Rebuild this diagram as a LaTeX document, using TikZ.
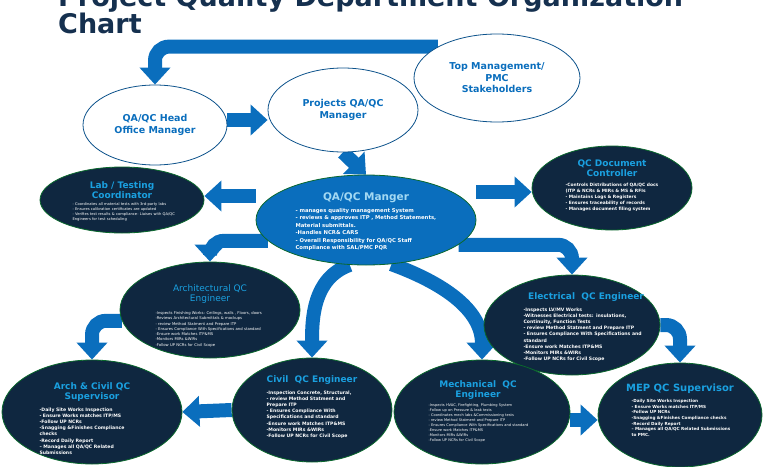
\documentclass[tikz,border=0pt]{standalone}
\usepackage{fontspec}
\setmainfont{DejaVu Sans}
\usetikzlibrary{shapes.geometric,arrows.meta,backgrounds}
\definecolor{navy}{HTML}{0F2740}
\definecolor{qblue}{HTML}{0A6EBD}
\definecolor{cyanh}{HTML}{1AA0E0}
\definecolor{titlec}{HTML}{15304F}
\tikzset{
  ell/.style={ellipse,draw=navy!70!green,line width=0.8pt,inner sep=0pt},
  wbox/.style={ell,fill=white,draw=qblue!60!navy},
  dbox/.style={ell,fill=navy},
  wtxt/.style={font=\bfseries\fontsize{9.5}{11.5}\selectfont,text=qblue,align=center},
  hd/.style={font=\bfseries\fontsize{9}{10}\selectfont,text=cyanh,align=center},
  bd/.style={font=\bfseries\fontsize{4.6}{6.2}\selectfont,text=white,align=left,execute at begin node={\hyphenpenalty=10000\exhyphenpenalty=10000}},
  conn/.style={draw=qblue,line width=14pt,rounded corners=14pt,-{Triangle[width=30pt,length=17pt]}},
}
\begin{document}
\begin{tikzpicture}[x=1pt,y=-1pt]
\useasboundingbox (0,0) rectangle (768,466);
\node[anchor=north west,font=\bfseries\fontsize{27}{27}\selectfont,text=titlec,align=left,inner sep=0] (title) at (58,-14) {Project Quality Department Organization\\Chart};

\node[wbox,minimum width=144,minimum height=80] (head) at (155,125) {};
\node[wtxt] at (head) {QA/QC Head\\Office Manager};
\node[wbox,minimum width=150,minimum height=84] (proj) at (343,110) {};
\node[wtxt] at (proj) {Projects QA/QC\\Manager};
\node[wbox,minimum width=166,minimum height=88] (top) at (497,78) {};
\node[wtxt] at (top) {Top Management/\\PMC\\Stakeholders};

\node[ell,fill=qblue,minimum width=220,minimum height=90] (mgr) at (366,220) {};
\node[font=\bfseries\fontsize{10.5}{12}\selectfont,text=cyanh!40!white] at (366,198) {QA/QC Manger};
\node[bd,font=\bfseries\fontsize{5.3}{7.4}\selectfont,anchor=north west,text width=150] at (292,205) {- manages quality management System\\- reviews \& approves ITP , Method Statements, Material submittals.\\-Handles NCR\& CARS\\- Overall Responsibility for QA/QC Staff Compliance with SAL/PMC PQR};

\node[dbox,minimum width=164,minimum height=66] (lab) at (122,200) {};
\node[hd] at (122,190) {Lab / Testing\\Coordinator};
\node[bd,font=\fontsize{3.7}{5}\selectfont,anchor=north west,text width=108] at (69,199) {- Coordinates all material tests with 3rd-party labs\\- Ensures calibration certificates are updated\\- Verifies test results \& compliance- Liaises with QA/QC Engineers for test scheduling};

\node[dbox,minimum width=160,minimum height=84] (doc) at (612,188) {};
\node[hd] at (612,168) {QC Document\\Controller};
\node[bd,font=\bfseries\fontsize{4.4}{6}\selectfont,anchor=north west,text width=102] at (562,180) {-Controls Distributions of QA/QC docs (ITP \& NCRs \& MIRs \& MS \& RFIs\\- Maintains Logs \& Registers\\- Ensures traceability of records\\- Manages document filing system};

\node[dbox,minimum width=180,minimum height=96] (arch) at (210,310) {};
\node[hd,font=\fontsize{9}{10.5}\selectfont] at (210,294) {Architectural QC\\Engineer};
\node[bd,font=\fontsize{3.8}{5.3}\selectfont,anchor=north west,text width=108] at (152,308) {-Inspects Finishing Works: Ceilings, walls , Floors, doors\\-Reviews Architectural Submittals \& mockups\\- review Method Statment and Prepare ITP\\- Ensures Compliance With Specifications and standard\\-Ensure work Matches ITP\&MS\\-Monitors MIRs \&WIRs\\-Follow UP NCRs for Civil Scope};

\node[dbox,minimum width=176,minimum height=100] (elec) at (572,325) {};
\node[hd] at (586,297) {Electrical\ \ QC Engineer};
\node[bd,anchor=north west,text width=122] at (520,304) {-Inspects LV/MV Works\\-Witnesses Electrical tests: insulations, Continuity, Function Tests\\- review Method Statment and Prepare ITP\\- Ensures Compliance With Specifications and standard\\-Ensure work Matches ITP\&MS\\-Monitors MIRs \&WIRs\\-Follow UP NCRs for Civil Scope};

\node[dbox,minimum width=180,minimum height=104] (acs) at (92,412) {};
\node[hd] at (92,392) {Arch \& Civil QC\\Supervisor};
\node[bd,anchor=north west,text width=102] at (36,404) {-Daily Site Works Inspection\\- Ensure Works matches ITP/MS\\-Follow UP NCRs\\-Snagging \&Finishes Compliance checks\\-Record Daily Report\\-- Manages all QA/QC Related Submissions};

\node[dbox,minimum width=160,minimum height=104] (civ) at (312,410) {};
\node[hd] at (312,380) {Civil\ \ QC Engineer};
\node[bd,anchor=north west,text width=100] at (263,387) {-Inspection Concrete, Structural,\\- review Method Statment and Prepare ITP\\- Ensures Compliance With Specifications and standard\\-Ensure work Matches ITP\&MS\\-Monitors MIRs \&WIRs\\-Follow UP NCRs for Civil Scope};

\node[dbox,minimum width=176,minimum height=104] (mech) at (482,412) {};
\node[hd] at (478,390) {Mechanical\ \ QC\\Engineer};
\node[bd,font=\fontsize{3.6}{5}\selectfont,anchor=north west,text width=108] at (425,400) {-Inspects HVAC, Firefighting, Plumbing System\\-Follow up on Pressure \& leak tests\\- Coordinates mech labs \&Commissioning tests\\- review Method Statment and Prepare ITP\\- Ensures Compliance With Specifications and standard\\-Ensure work Matches ITP\&MS\\-Monitors MIRs \&WIRs\\-Follow UP NCRs for Civil Scope};

\node[dbox,minimum width=164,minimum height=104] (mep) at (680,415) {};
\node[hd,font=\bfseries\fontsize{10}{11}\selectfont] at (680,389) {MEP QC Supervisor};
\node[bd,font=\bfseries\fontsize{4.2}{5.6}\selectfont,anchor=north west,text width=104] at (628,396) {-Daily Site Works Inspection\\- Ensure Works matches ITP/MS\\-Follow UP NCRs\\-Snagging \&Finishes Compliance checks\\-Record Daily Report\\-- Manages all QA/QC Related Submissions to PMC.};

% connectors
\begin{scope}[on background layer]
\draw[conn] (top.152) -| (head.north);
\draw[conn] (head.east |- 0,120) -- (proj.west |- 0,120);
\draw[conn] (proj.south) -- (mgr.north);
\draw[conn] (mgr.west |- 0,196) -- (lab.east |- 0,196);
\draw[conn] (mgr.east |- 0,192) -- (doc.west |- 0,192);
\draw[conn] (mgr.192) -| (arch.north);
\draw[conn] (mgr.250) to[out=200,in=90] (civ.north);
\draw[conn] (mgr.300) to[out=-20,in=90] (mech.north);
\draw[conn] (mgr.345) -| (elec.north);
\draw[conn] (arch.187) -| (acs.north);
\draw[conn] (civ.west) -- (acs.east);
\draw[conn] (mech.east |- 0,420) -- (mep.west |- 0,420);
\draw[conn] (elec.east) -| (mep.north);
\end{scope}
\end{tikzpicture}
\end{document}
